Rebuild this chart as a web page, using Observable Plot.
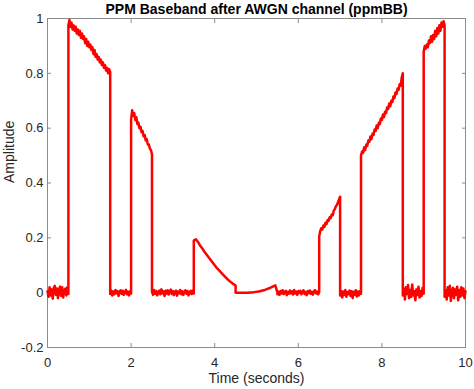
<!DOCTYPE html>
<html>
<head>
<meta charset="utf-8">
<script src="https://cdn.jsdelivr.net/npm/d3@7"></script>
<script src="https://cdn.jsdelivr.net/npm/@observablehq/plot@0.6"></script>
<style>
  html, body { margin: 0; padding: 0; background: #fff; }
  #chart svg { display: block; }
</style>
</head>
<body>
<div id="chart"></div>
<script>
const titleText = "PPM Baseband after AWGN channel (ppmBB)";
const xLabel = "Time (seconds)";
const yLabel = "Amplitude";
const xTicks = [0, 2, 4, 6, 8, 10];
const yTicks = [-0.2, 0, 0.2, 0.4, 0.6, 0.8, 1];

// Segment boundaries (seconds)
const segStarts = [0, 0.5, 1.5, 2.0, 2.5, 3.5, 4.5, 5.5, 6.5, 7.0, 7.5, 8.5, 9.0, 9.5];
const segEnds   = [0.5, 1.5, 2.0, 2.5, 3.5, 4.5, 5.5, 6.5, 7.0, 7.5, 8.5, 9.0, 9.5, 10];

const noiseA = [0.005, -0.015, 0.02, -0.01, 0.012, -0.022, 0.018, 0.025, -0.008, 0.015, -0.02, 0.01, 0.022, -0.012, 0.02, -0.018, 0.008, 0.015, -0.01, 0.02, -0.005];
const pulseB = [0.975, 0.995, 0.97, 0.985, 0.96, 0.975, 0.955, 0.97, 0.945, 0.96, 0.94, 0.955, 0.93, 0.945, 0.925, 0.935, 0.91, 0.925, 0.9, 0.915, 0.895, 0.905, 0.885, 0.895, 0.87, 0.885, 0.86, 0.87, 0.85, 0.86, 0.84, 0.85, 0.83, 0.84, 0.82, 0.83, 0.81, 0.82, 0.8, 0.815, 0.805];
const noiseC = [-0.005, 0.008, -0.01, 0.004, -0.006, 0.01, -0.002, 0.006, -0.012, 0.003, 0.009, -0.004, 0.007, -0.008, 0.002, 0.01, -0.006, 0.004, -0.01, 0.005, -0.003];
const pulseD = [0.63, 0.665, 0.645, 0.655, 0.63, 0.64, 0.615, 0.62, 0.6, 0.605, 0.585, 0.59, 0.57, 0.575, 0.555, 0.56, 0.54, 0.54, 0.525, 0.52, 0.505];
const noiseE = [0.004, -0.008, 0.01, -0.004, 0.006, -0.01, 0.002, 0.008, -0.006, 0.012, -0.002, 0.005, -0.012, 0.007, -0.003, 0.009, -0.007, 0.003, 0.011, -0.005, 0.006, -0.009, 0.002, 0.008, -0.011, 0.004, -0.002, 0.01, -0.006, 0.005, -0.008, 0.003, 0.009, -0.004, 0.006, -0.01, 0.001, 0.007, -0.005, 0.008, -0.003];
const pulseF = [0.19, 0.195, 0.185, 0.172, 0.162, 0.15, 0.14, 0.13, 0.12, 0.11, 0.1, 0.09, 0.082, 0.074, 0.066, 0.058, 0.05, 0.043, 0.037, 0.031, 0.026];
const smoothG = [0, 0, 0, 0, 0, 0, 0, 0.001, 0.001, 0.002, 0.003, 0.004, 0.006, 0.008, 0.01, 0.013, 0.016, 0.019, 0.023, 0.027, 0.0];
const noiseH = [-0.006, 0.004, -0.008, 0.006, -0.003, 0.009, -0.005, 0.002, 0.007, -0.009, 0.003, -0.004, 0.008, -0.002, 0.005, -0.007, 0.01, -0.003, 0.004, -0.008, 0.006, -0.001, 0.007, -0.006, 0.003, 0.009, -0.005, 0.002, -0.009, 0.006, -0.002, 0.008, -0.004, 0.003, -0.007, 0.005, 0.009, -0.003, 0.004, -0.006, 0.002];
const pulseI = [0.205, 0.225, 0.235, 0.23, 0.245, 0.24, 0.255, 0.25, 0.265, 0.262, 0.275, 0.272, 0.285, 0.283, 0.3, 0.305, 0.315, 0.32, 0.33, 0.34, 0.35];
const noiseJ = [-0.01, 0.006, -0.018, 0.004, -0.008, 0.01, -0.015, 0.002, -0.006, 0.008, -0.012, 0.005, -0.02, 0.003, -0.007, 0.009, -0.014, 0.004, -0.01, 0.006, -0.004];
const pulseK = [0.5, 0.515, 0.51, 0.53, 0.52, 0.54, 0.535, 0.555, 0.55, 0.57, 0.56, 0.58, 0.575, 0.595, 0.59, 0.61, 0.6, 0.62, 0.615, 0.635, 0.63, 0.65, 0.64, 0.66, 0.655, 0.675, 0.67, 0.69, 0.68, 0.7, 0.695, 0.715, 0.71, 0.73, 0.725, 0.745, 0.74, 0.76, 0.755, 0.785, 0.8];
const noiseL = [-0.01, 0.015, -0.025, 0.02, -0.005, 0.028, -0.02, 0.01, -0.015, 0.03, -0.01, 0.005, -0.028, 0.012, -0.008, 0.022, -0.018, 0.006, -0.012, 0.018, -0.004];
const pulseM = [0.88, 0.9, 0.89, 0.905, 0.895, 0.92, 0.91, 0.935, 0.915, 0.94, 0.925, 0.955, 0.935, 0.965, 0.945, 0.975, 0.955, 0.985, 0.97, 0.99, 0.975];
const noiseN = [-0.015, 0.01, -0.025, 0.02, -0.01, 0.025, -0.03, 0.005, 0.018, -0.02, 0.012, -0.008, 0.022, -0.028, 0.01, -0.015, 0.02, -0.01, 0.015, -0.02, 0.005];

const segValues = [noiseA, pulseB, noiseC, pulseD, noiseE, pulseF, smoothG, noiseH, pulseI, noiseJ, pulseK, noiseL, pulseM, noiseN];

// Build the table: each segment's samples spread evenly over its interval
const signal = [];
segValues.forEach((vals, s) => {
  const a = segStarts[s], b = segEnds[s], n = vals.length;
  vals.forEach((v, i) => signal.push({t: a + (b - a) * i / (n - 1), v}));
});

const axisColor = "#262626";
const frameColor = "#8c8c8c";
const fontFamily = "'Liberation Sans', Arial, Helvetica, sans-serif";

const chart = Plot.plot({
  width: 474,
  height: 389,
  marginLeft: 47,
  marginRight: 9,
  marginTop: 18,
  marginBottom: 42,
  style: {fontFamily, fontSize: "13px", color: axisColor, background: "#fff"},
  x: {domain: [0, 10]},
  y: {domain: [-0.2, 1]},
  marks: [
    Plot.frame({stroke: frameColor, strokeWidth: 1}),
    // inward tick marks on all four sides
    Plot.axisX(xTicks, {anchor: "bottom", tickSize: 4, dy: -4, tickFormat: () => "", stroke: frameColor, label: null}),
    Plot.axisX(xTicks, {anchor: "top", tickSize: 4, dy: 4, tickFormat: () => "", stroke: frameColor, label: null}),
    Plot.axisY(yTicks, {anchor: "left", tickSize: 4, dx: 4, tickFormat: () => "", stroke: frameColor, label: null}),
    Plot.axisY(yTicks, {anchor: "right", tickSize: 4, dx: -4, tickFormat: () => "", stroke: frameColor, label: null}),
    // tick labels
    Plot.axisX(xTicks, {anchor: "bottom", tickSize: 0, tickPadding: 10, tickFormat: d => String(d), label: null, fill: axisColor, fontSize: 13}),
    Plot.axisY(yTicks, {anchor: "left", tickSize: 0, tickPadding: 4, tickFormat: d => String(d), label: null, fill: axisColor, fontSize: 13}),
    // signal
    Plot.line(signal, {x: "t", y: "v", stroke: "#ff0000", strokeWidth: 2.5, strokeLinejoin: "round"}),
    // labels and title
    Plot.text([xLabel], {frameAnchor: "bottom", dy: 31, lineAnchor: "middle", fontSize: 14, fill: axisColor}),
    Plot.text([yLabel], {frameAnchor: "left", dx: -38, rotate: -90, lineAnchor: "middle", fontSize: 14, fill: axisColor}),
    Plot.text([titleText], {frameAnchor: "top", dy: -9, lineAnchor: "middle", fontSize: 14, fontWeight: "bold", fill: "#000"})
  ]
});

document.getElementById("chart").appendChild(chart);
</script>
</body>
</html>
